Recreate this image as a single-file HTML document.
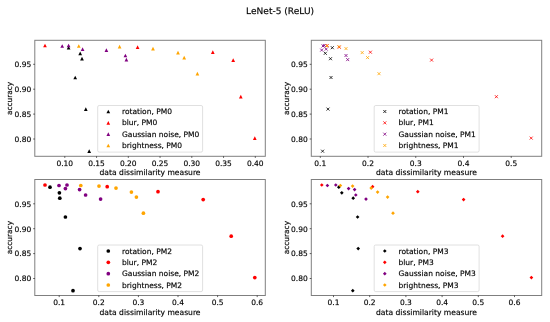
<!DOCTYPE html>
<html><head><meta charset="utf-8"><style>html,body{margin:0;padding:0;background:#fff;}svg{display:block;}</style></head>
<body><svg width="550" height="322" viewBox="0 0 550 322" font-family="'DejaVu Sans', 'Liberation Sans', sans-serif" fill="#000" text-rendering="geometricPrecision">
<style>text{stroke:#000;stroke-width:0.3;stroke-opacity:0.5}</style>
<defs><filter id="b" x="0" y="0" width="1" height="1" color-interpolation-filters="sRGB"><feGaussianBlur stdDeviation="0.35"/></filter></defs>
<g filter="url(#b)">
<rect width="550" height="322" fill="#fff"/>
<text x="280.1" y="13.8" font-size="9.05" text-anchor="middle">LeNet-5 (ReLU)</text>
<g><path d="M68.60,45.85L70.45,49.55L66.75,49.55Z" fill="#000000"/><path d="M80.20,51.45L82.05,55.15L78.35,55.15Z" fill="#000000"/><path d="M82.00,56.85L83.85,60.55L80.15,60.55Z" fill="#000000"/><path d="M75.20,75.65L77.05,79.35L73.35,79.35Z" fill="#000000"/><path d="M85.80,107.25L87.65,110.95L83.95,110.95Z" fill="#000000"/><path d="M89.20,149.35L91.05,153.05L87.35,153.05Z" fill="#000000"/><path d="M45.00,43.65L46.85,47.35L43.15,47.35Z" fill="#ff0000"/><path d="M137.60,45.35L139.45,49.05L135.75,49.05Z" fill="#ff0000"/><path d="M212.80,50.35L214.65,54.05L210.95,54.05Z" fill="#ff0000"/><path d="M233.20,58.25L235.05,61.95L231.35,61.95Z" fill="#ff0000"/><path d="M240.80,94.85L242.65,98.55L238.95,98.55Z" fill="#ff0000"/><path d="M254.80,136.25L256.65,139.95L252.95,139.95Z" fill="#ff0000"/><path d="M62.20,44.15L64.05,47.85L60.35,47.85Z" fill="#800080"/><path d="M68.60,43.65L70.45,47.35L66.75,47.35Z" fill="#800080"/><path d="M82.60,47.25L84.45,50.95L80.75,50.95Z" fill="#800080"/><path d="M106.40,48.25L108.25,51.95L104.55,51.95Z" fill="#800080"/><path d="M125.40,53.65L127.25,57.35L123.55,57.35Z" fill="#800080"/><path d="M126.40,57.75L128.25,61.45L124.55,61.45Z" fill="#800080"/><path d="M78.80,44.15L80.65,47.85L76.95,47.85Z" fill="#ffa500"/><path d="M119.60,44.75L121.45,48.45L117.75,48.45Z" fill="#ffa500"/><path d="M153.00,46.75L154.85,50.45L151.15,50.45Z" fill="#ffa500"/><path d="M178.00,50.75L179.85,54.45L176.15,54.45Z" fill="#ffa500"/><path d="M184.20,55.75L186.05,59.45L182.35,59.45Z" fill="#ffa500"/><path d="M197.40,71.85L199.25,75.55L195.55,75.55Z" fill="#ffa500"/><rect x="34.80" y="40.30" width="230.50" height="116.00" fill="none" stroke="#000" stroke-opacity="0.5" stroke-width="1.0"/><line x1="33.20" y1="64.30" x2="34.80" y2="64.30" stroke="#000" stroke-width="0.62"/><text x="31.30" y="67.10" font-size="7.5" text-anchor="end">0.95</text><line x1="33.20" y1="89.20" x2="34.80" y2="89.20" stroke="#000" stroke-width="0.62"/><text x="31.30" y="92.00" font-size="7.5" text-anchor="end">0.90</text><line x1="33.20" y1="114.10" x2="34.80" y2="114.10" stroke="#000" stroke-width="0.62"/><text x="31.30" y="116.90" font-size="7.5" text-anchor="end">0.85</text><line x1="33.20" y1="139.00" x2="34.80" y2="139.00" stroke="#000" stroke-width="0.62"/><text x="31.30" y="141.80" font-size="7.5" text-anchor="end">0.80</text><line x1="64.80" y1="156.30" x2="64.80" y2="157.90" stroke="#000" stroke-width="0.62"/><text x="64.80" y="165.60" font-size="7.5" text-anchor="middle">0.10</text><line x1="96.55" y1="156.30" x2="96.55" y2="157.90" stroke="#000" stroke-width="0.62"/><text x="96.55" y="165.60" font-size="7.5" text-anchor="middle">0.15</text><line x1="128.30" y1="156.30" x2="128.30" y2="157.90" stroke="#000" stroke-width="0.62"/><text x="128.30" y="165.60" font-size="7.5" text-anchor="middle">0.20</text><line x1="160.05" y1="156.30" x2="160.05" y2="157.90" stroke="#000" stroke-width="0.62"/><text x="160.05" y="165.60" font-size="7.5" text-anchor="middle">0.25</text><line x1="191.80" y1="156.30" x2="191.80" y2="157.90" stroke="#000" stroke-width="0.62"/><text x="191.80" y="165.60" font-size="7.5" text-anchor="middle">0.30</text><line x1="223.55" y1="156.30" x2="223.55" y2="157.90" stroke="#000" stroke-width="0.62"/><text x="223.55" y="165.60" font-size="7.5" text-anchor="middle">0.35</text><line x1="255.30" y1="156.30" x2="255.30" y2="157.90" stroke="#000" stroke-width="0.62"/><text x="255.30" y="165.60" font-size="7.5" text-anchor="middle">0.40</text><text x="150.05" y="174.90" font-size="7.6" text-anchor="middle">data dissimilarity measure</text><text transform="translate(12.40,98.45) rotate(-90)" x="0" y="0" font-size="7.4" text-anchor="middle">accuracy</text><rect x="97.70" y="105.50" width="104.90" height="46.60" rx="1.5" fill="#fff" fill-opacity="0.8" stroke="#cccccc" stroke-width="0.62"/><path d="M108.30,109.65L110.15,113.35L106.45,113.35Z" fill="#000000"/><text x="122.00" y="114.10" font-size="7.5">rotation, PM0</text><path d="M108.30,120.98L110.15,124.68L106.45,124.68Z" fill="#ff0000"/><text x="122.00" y="125.43" font-size="7.5">blur, PM0</text><path d="M108.30,132.31L110.15,136.01L106.45,136.01Z" fill="#800080"/><text x="122.00" y="136.76" font-size="7.5">Gaussian noise, PM0</text><path d="M108.30,143.64L110.15,147.34L106.45,147.34Z" fill="#ffa500"/><text x="122.00" y="148.09" font-size="7.5">brightness, PM0</text></g>
<g><path d="M330.80,46.20L333.80,49.20M330.80,49.20L333.80,46.20" stroke="#000000" stroke-width="0.8" fill="none"/><path d="M323.80,51.80L326.80,54.80M323.80,54.80L326.80,51.80" stroke="#000000" stroke-width="0.8" fill="none"/><path d="M329.00,57.20L332.00,60.20M329.00,60.20L332.00,57.20" stroke="#000000" stroke-width="0.8" fill="none"/><path d="M329.50,76.00L332.50,79.00M329.50,79.00L332.50,76.00" stroke="#000000" stroke-width="0.8" fill="none"/><path d="M326.50,107.60L329.50,110.60M326.50,110.60L329.50,107.60" stroke="#000000" stroke-width="0.8" fill="none"/><path d="M321.10,149.70L324.10,152.70M321.10,152.70L324.10,149.70" stroke="#000000" stroke-width="0.8" fill="none"/><path d="M325.70,44.00L328.70,47.00M325.70,47.00L328.70,44.00" stroke="#ff0000" stroke-width="0.8" fill="none"/><path d="M337.70,45.70L340.70,48.70M337.70,48.70L340.70,45.70" stroke="#ff0000" stroke-width="0.8" fill="none"/><path d="M368.90,50.70L371.90,53.70M368.90,53.70L371.90,50.70" stroke="#ff0000" stroke-width="0.8" fill="none"/><path d="M430.10,58.60L433.10,61.60M430.10,61.60L433.10,58.60" stroke="#ff0000" stroke-width="0.8" fill="none"/><path d="M494.90,95.20L497.90,98.20M494.90,98.20L497.90,95.20" stroke="#ff0000" stroke-width="0.8" fill="none"/><path d="M529.70,136.60L532.70,139.60M529.70,139.60L532.70,136.60" stroke="#ff0000" stroke-width="0.8" fill="none"/><path d="M321.50,44.50L324.50,47.50M321.50,47.50L324.50,44.50" stroke="#800080" stroke-width="0.8" fill="none"/><path d="M322.80,44.00L325.80,47.00M322.80,47.00L325.80,44.00" stroke="#800080" stroke-width="0.8" fill="none"/><path d="M324.70,47.60L327.70,50.60M324.70,50.60L327.70,47.60" stroke="#800080" stroke-width="0.8" fill="none"/><path d="M320.20,48.60L323.20,51.60M320.20,51.60L323.20,48.60" stroke="#800080" stroke-width="0.8" fill="none"/><path d="M344.50,54.00L347.50,57.00M344.50,57.00L347.50,54.00" stroke="#800080" stroke-width="0.8" fill="none"/><path d="M346.20,58.10L349.20,61.10M346.20,61.10L349.20,58.10" stroke="#800080" stroke-width="0.8" fill="none"/><path d="M325.50,44.50L328.50,47.50M325.50,47.50L328.50,44.50" stroke="#ffa500" stroke-width="0.8" fill="none"/><path d="M337.50,45.10L340.50,48.10M337.50,48.10L340.50,45.10" stroke="#ffa500" stroke-width="0.8" fill="none"/><path d="M344.50,47.10L347.50,50.10M344.50,50.10L347.50,47.10" stroke="#ffa500" stroke-width="0.8" fill="none"/><path d="M360.70,51.10L363.70,54.10M360.70,54.10L363.70,51.10" stroke="#ffa500" stroke-width="0.8" fill="none"/><path d="M366.10,56.10L369.10,59.10M366.10,59.10L369.10,56.10" stroke="#ffa500" stroke-width="0.8" fill="none"/><path d="M377.50,72.20L380.50,75.20M377.50,75.20L380.50,72.20" stroke="#ffa500" stroke-width="0.8" fill="none"/><rect x="311.30" y="40.30" width="230.40" height="116.00" fill="none" stroke="#000" stroke-opacity="0.5" stroke-width="1.0"/><line x1="309.70" y1="64.30" x2="311.30" y2="64.30" stroke="#000" stroke-width="0.62"/><text x="307.80" y="67.10" font-size="7.5" text-anchor="end">0.95</text><line x1="309.70" y1="89.20" x2="311.30" y2="89.20" stroke="#000" stroke-width="0.62"/><text x="307.80" y="92.00" font-size="7.5" text-anchor="end">0.90</text><line x1="309.70" y1="114.10" x2="311.30" y2="114.10" stroke="#000" stroke-width="0.62"/><text x="307.80" y="116.90" font-size="7.5" text-anchor="end">0.85</text><line x1="309.70" y1="139.00" x2="311.30" y2="139.00" stroke="#000" stroke-width="0.62"/><text x="307.80" y="141.80" font-size="7.5" text-anchor="end">0.80</text><line x1="320.30" y1="156.30" x2="320.30" y2="157.90" stroke="#000" stroke-width="0.62"/><text x="320.30" y="165.60" font-size="7.5" text-anchor="middle">0.1</text><line x1="368.03" y1="156.30" x2="368.03" y2="157.90" stroke="#000" stroke-width="0.62"/><text x="368.03" y="165.60" font-size="7.5" text-anchor="middle">0.2</text><line x1="415.76" y1="156.30" x2="415.76" y2="157.90" stroke="#000" stroke-width="0.62"/><text x="415.76" y="165.60" font-size="7.5" text-anchor="middle">0.3</text><line x1="463.49" y1="156.30" x2="463.49" y2="157.90" stroke="#000" stroke-width="0.62"/><text x="463.49" y="165.60" font-size="7.5" text-anchor="middle">0.4</text><line x1="511.22" y1="156.30" x2="511.22" y2="157.90" stroke="#000" stroke-width="0.62"/><text x="511.22" y="165.60" font-size="7.5" text-anchor="middle">0.5</text><text x="426.50" y="174.90" font-size="7.6" text-anchor="middle">data dissimilarity measure</text><text transform="translate(288.90,98.45) rotate(-90)" x="0" y="0" font-size="7.4" text-anchor="middle">accuracy</text><rect x="374.20" y="105.50" width="104.90" height="46.60" rx="1.5" fill="#fff" fill-opacity="0.8" stroke="#cccccc" stroke-width="0.62"/><path d="M383.30,110.00L386.30,113.00M383.30,113.00L386.30,110.00" stroke="#000000" stroke-width="0.8" fill="none"/><text x="398.50" y="114.10" font-size="7.5">rotation, PM1</text><path d="M383.30,121.33L386.30,124.33M383.30,124.33L386.30,121.33" stroke="#ff0000" stroke-width="0.8" fill="none"/><text x="398.50" y="125.43" font-size="7.5">blur, PM1</text><path d="M383.30,132.66L386.30,135.66M383.30,135.66L386.30,132.66" stroke="#800080" stroke-width="0.8" fill="none"/><text x="398.50" y="136.76" font-size="7.5">Gaussian noise, PM1</text><path d="M383.30,143.99L386.30,146.99M383.30,146.99L386.30,143.99" stroke="#ffa500" stroke-width="0.8" fill="none"/><text x="398.50" y="148.09" font-size="7.5">brightness, PM1</text></g>
<g><circle cx="50.00" cy="187.20" r="1.85" fill="#000000"/><circle cx="59.40" cy="192.80" r="1.85" fill="#000000"/><circle cx="59.80" cy="198.20" r="1.85" fill="#000000"/><circle cx="65.40" cy="217.00" r="1.85" fill="#000000"/><circle cx="80.00" cy="248.60" r="1.85" fill="#000000"/><circle cx="73.00" cy="290.70" r="1.85" fill="#000000"/><circle cx="45.00" cy="185.00" r="1.85" fill="#ff0000"/><circle cx="107.20" cy="186.70" r="1.85" fill="#ff0000"/><circle cx="158.00" cy="191.70" r="1.85" fill="#ff0000"/><circle cx="203.20" cy="199.60" r="1.85" fill="#ff0000"/><circle cx="231.20" cy="236.20" r="1.85" fill="#ff0000"/><circle cx="254.80" cy="277.60" r="1.85" fill="#ff0000"/><circle cx="59.00" cy="185.50" r="1.85" fill="#800080"/><circle cx="67.00" cy="185.00" r="1.85" fill="#800080"/><circle cx="65.40" cy="188.60" r="1.85" fill="#800080"/><circle cx="79.60" cy="189.60" r="1.85" fill="#800080"/><circle cx="85.60" cy="195.00" r="1.85" fill="#800080"/><circle cx="100.60" cy="199.10" r="1.85" fill="#800080"/><circle cx="80.80" cy="185.50" r="1.85" fill="#ffa500"/><circle cx="99.00" cy="186.10" r="1.85" fill="#ffa500"/><circle cx="116.00" cy="188.10" r="1.85" fill="#ffa500"/><circle cx="131.40" cy="192.10" r="1.85" fill="#ffa500"/><circle cx="136.40" cy="197.10" r="1.85" fill="#ffa500"/><circle cx="143.40" cy="213.20" r="1.85" fill="#ffa500"/><rect x="34.80" y="179.50" width="230.50" height="116.00" fill="none" stroke="#000" stroke-opacity="0.5" stroke-width="1.0"/><line x1="33.20" y1="203.80" x2="34.80" y2="203.80" stroke="#000" stroke-width="0.62"/><text x="31.30" y="206.60" font-size="7.5" text-anchor="end">0.95</text><line x1="33.20" y1="228.70" x2="34.80" y2="228.70" stroke="#000" stroke-width="0.62"/><text x="31.30" y="231.50" font-size="7.5" text-anchor="end">0.90</text><line x1="33.20" y1="253.60" x2="34.80" y2="253.60" stroke="#000" stroke-width="0.62"/><text x="31.30" y="256.40" font-size="7.5" text-anchor="end">0.85</text><line x1="33.20" y1="278.50" x2="34.80" y2="278.50" stroke="#000" stroke-width="0.62"/><text x="31.30" y="281.30" font-size="7.5" text-anchor="end">0.80</text><line x1="59.20" y1="295.50" x2="59.20" y2="297.10" stroke="#000" stroke-width="0.62"/><text x="59.20" y="304.80" font-size="7.5" text-anchor="middle">0.1</text><line x1="98.80" y1="295.50" x2="98.80" y2="297.10" stroke="#000" stroke-width="0.62"/><text x="98.80" y="304.80" font-size="7.5" text-anchor="middle">0.2</text><line x1="138.40" y1="295.50" x2="138.40" y2="297.10" stroke="#000" stroke-width="0.62"/><text x="138.40" y="304.80" font-size="7.5" text-anchor="middle">0.3</text><line x1="178.00" y1="295.50" x2="178.00" y2="297.10" stroke="#000" stroke-width="0.62"/><text x="178.00" y="304.80" font-size="7.5" text-anchor="middle">0.4</text><line x1="217.60" y1="295.50" x2="217.60" y2="297.10" stroke="#000" stroke-width="0.62"/><text x="217.60" y="304.80" font-size="7.5" text-anchor="middle">0.5</text><line x1="257.20" y1="295.50" x2="257.20" y2="297.10" stroke="#000" stroke-width="0.62"/><text x="257.20" y="304.80" font-size="7.5" text-anchor="middle">0.6</text><text x="150.05" y="314.55" font-size="7.6" text-anchor="middle">data dissimilarity measure</text><text transform="translate(12.40,237.65) rotate(-90)" x="0" y="0" font-size="7.4" text-anchor="middle">accuracy</text><rect x="97.70" y="245.00" width="104.90" height="46.60" rx="1.5" fill="#fff" fill-opacity="0.8" stroke="#cccccc" stroke-width="0.62"/><circle cx="108.30" cy="251.00" r="1.85" fill="#000000"/><text x="122.00" y="253.60" font-size="7.5">rotation, PM2</text><circle cx="108.30" cy="262.33" r="1.85" fill="#ff0000"/><text x="122.00" y="264.93" font-size="7.5">blur, PM2</text><circle cx="108.30" cy="273.66" r="1.85" fill="#800080"/><text x="122.00" y="276.26" font-size="7.5">Gaussian noise, PM2</text><circle cx="108.30" cy="284.99" r="1.85" fill="#ffa500"/><text x="122.00" y="287.59" font-size="7.5">brightness, PM2</text></g>
<g><path d="M338.80,185.35L340.65,187.20L338.80,189.05L336.95,187.20Z" fill="#000000"/><path d="M341.80,190.95L343.65,192.80L341.80,194.65L339.95,192.80Z" fill="#000000"/><path d="M353.20,196.35L355.05,198.20L353.20,200.05L351.35,198.20Z" fill="#000000"/><path d="M357.60,215.15L359.45,217.00L357.60,218.85L355.75,217.00Z" fill="#000000"/><path d="M358.20,246.75L360.05,248.60L358.20,250.45L356.35,248.60Z" fill="#000000"/><path d="M352.80,288.85L354.65,290.70L352.80,292.55L350.95,290.70Z" fill="#000000"/><path d="M321.80,183.15L323.65,185.00L321.80,186.85L319.95,185.00Z" fill="#ff0000"/><path d="M372.60,184.85L374.45,186.70L372.60,188.55L370.75,186.70Z" fill="#ff0000"/><path d="M417.80,189.85L419.65,191.70L417.80,193.55L415.95,191.70Z" fill="#ff0000"/><path d="M463.60,197.75L465.45,199.60L463.60,201.45L461.75,199.60Z" fill="#ff0000"/><path d="M502.60,234.35L504.45,236.20L502.60,238.05L500.75,236.20Z" fill="#ff0000"/><path d="M531.40,275.75L533.25,277.60L531.40,279.45L529.55,277.60Z" fill="#ff0000"/><path d="M327.40,183.65L329.25,185.50L327.40,187.35L325.55,185.50Z" fill="#800080"/><path d="M335.80,183.15L337.65,185.00L335.80,186.85L333.95,185.00Z" fill="#800080"/><path d="M348.60,186.75L350.45,188.60L348.60,190.45L346.75,188.60Z" fill="#800080"/><path d="M354.60,187.75L356.45,189.60L354.60,191.45L352.75,189.60Z" fill="#800080"/><path d="M355.80,193.15L357.65,195.00L355.80,196.85L353.95,195.00Z" fill="#800080"/><path d="M366.00,197.25L367.85,199.10L366.00,200.95L364.15,199.10Z" fill="#800080"/><path d="M340.40,183.65L342.25,185.50L340.40,187.35L338.55,185.50Z" fill="#ffa500"/><path d="M352.60,184.25L354.45,186.10L352.60,187.95L350.75,186.10Z" fill="#ffa500"/><path d="M371.20,186.25L373.05,188.10L371.20,189.95L369.35,188.10Z" fill="#ffa500"/><path d="M377.60,190.25L379.45,192.10L377.60,193.95L375.75,192.10Z" fill="#ffa500"/><path d="M387.60,195.25L389.45,197.10L387.60,198.95L385.75,197.10Z" fill="#ffa500"/><path d="M393.00,211.35L394.85,213.20L393.00,215.05L391.15,213.20Z" fill="#ffa500"/><rect x="311.30" y="179.50" width="230.40" height="116.00" fill="none" stroke="#000" stroke-opacity="0.5" stroke-width="1.0"/><line x1="309.70" y1="203.80" x2="311.30" y2="203.80" stroke="#000" stroke-width="0.62"/><text x="307.80" y="206.60" font-size="7.5" text-anchor="end">0.95</text><line x1="309.70" y1="228.70" x2="311.30" y2="228.70" stroke="#000" stroke-width="0.62"/><text x="307.80" y="231.50" font-size="7.5" text-anchor="end">0.90</text><line x1="309.70" y1="253.60" x2="311.30" y2="253.60" stroke="#000" stroke-width="0.62"/><text x="307.80" y="256.40" font-size="7.5" text-anchor="end">0.85</text><line x1="309.70" y1="278.50" x2="311.30" y2="278.50" stroke="#000" stroke-width="0.62"/><text x="307.80" y="281.30" font-size="7.5" text-anchor="end">0.80</text><line x1="333.50" y1="295.50" x2="333.50" y2="297.10" stroke="#000" stroke-width="0.62"/><text x="333.50" y="304.80" font-size="7.5" text-anchor="middle">0.1</text><line x1="369.70" y1="295.50" x2="369.70" y2="297.10" stroke="#000" stroke-width="0.62"/><text x="369.70" y="304.80" font-size="7.5" text-anchor="middle">0.2</text><line x1="405.90" y1="295.50" x2="405.90" y2="297.10" stroke="#000" stroke-width="0.62"/><text x="405.90" y="304.80" font-size="7.5" text-anchor="middle">0.3</text><line x1="442.10" y1="295.50" x2="442.10" y2="297.10" stroke="#000" stroke-width="0.62"/><text x="442.10" y="304.80" font-size="7.5" text-anchor="middle">0.4</text><line x1="478.30" y1="295.50" x2="478.30" y2="297.10" stroke="#000" stroke-width="0.62"/><text x="478.30" y="304.80" font-size="7.5" text-anchor="middle">0.5</text><line x1="514.50" y1="295.50" x2="514.50" y2="297.10" stroke="#000" stroke-width="0.62"/><text x="514.50" y="304.80" font-size="7.5" text-anchor="middle">0.6</text><text x="426.50" y="314.55" font-size="7.6" text-anchor="middle">data dissimilarity measure</text><text transform="translate(288.90,237.65) rotate(-90)" x="0" y="0" font-size="7.4" text-anchor="middle">accuracy</text><rect x="374.20" y="245.00" width="104.90" height="46.60" rx="1.5" fill="#fff" fill-opacity="0.8" stroke="#cccccc" stroke-width="0.62"/><path d="M384.80,249.15L386.65,251.00L384.80,252.85L382.95,251.00Z" fill="#000000"/><text x="398.50" y="253.60" font-size="7.5">rotation, PM3</text><path d="M384.80,260.48L386.65,262.33L384.80,264.18L382.95,262.33Z" fill="#ff0000"/><text x="398.50" y="264.93" font-size="7.5">blur, PM3</text><path d="M384.80,271.81L386.65,273.66L384.80,275.51L382.95,273.66Z" fill="#800080"/><text x="398.50" y="276.26" font-size="7.5">Gaussian noise, PM3</text><path d="M384.80,283.14L386.65,284.99L384.80,286.84L382.95,284.99Z" fill="#ffa500"/><text x="398.50" y="287.59" font-size="7.5">brightness, PM3</text></g>
</g>
</svg></body></html>
